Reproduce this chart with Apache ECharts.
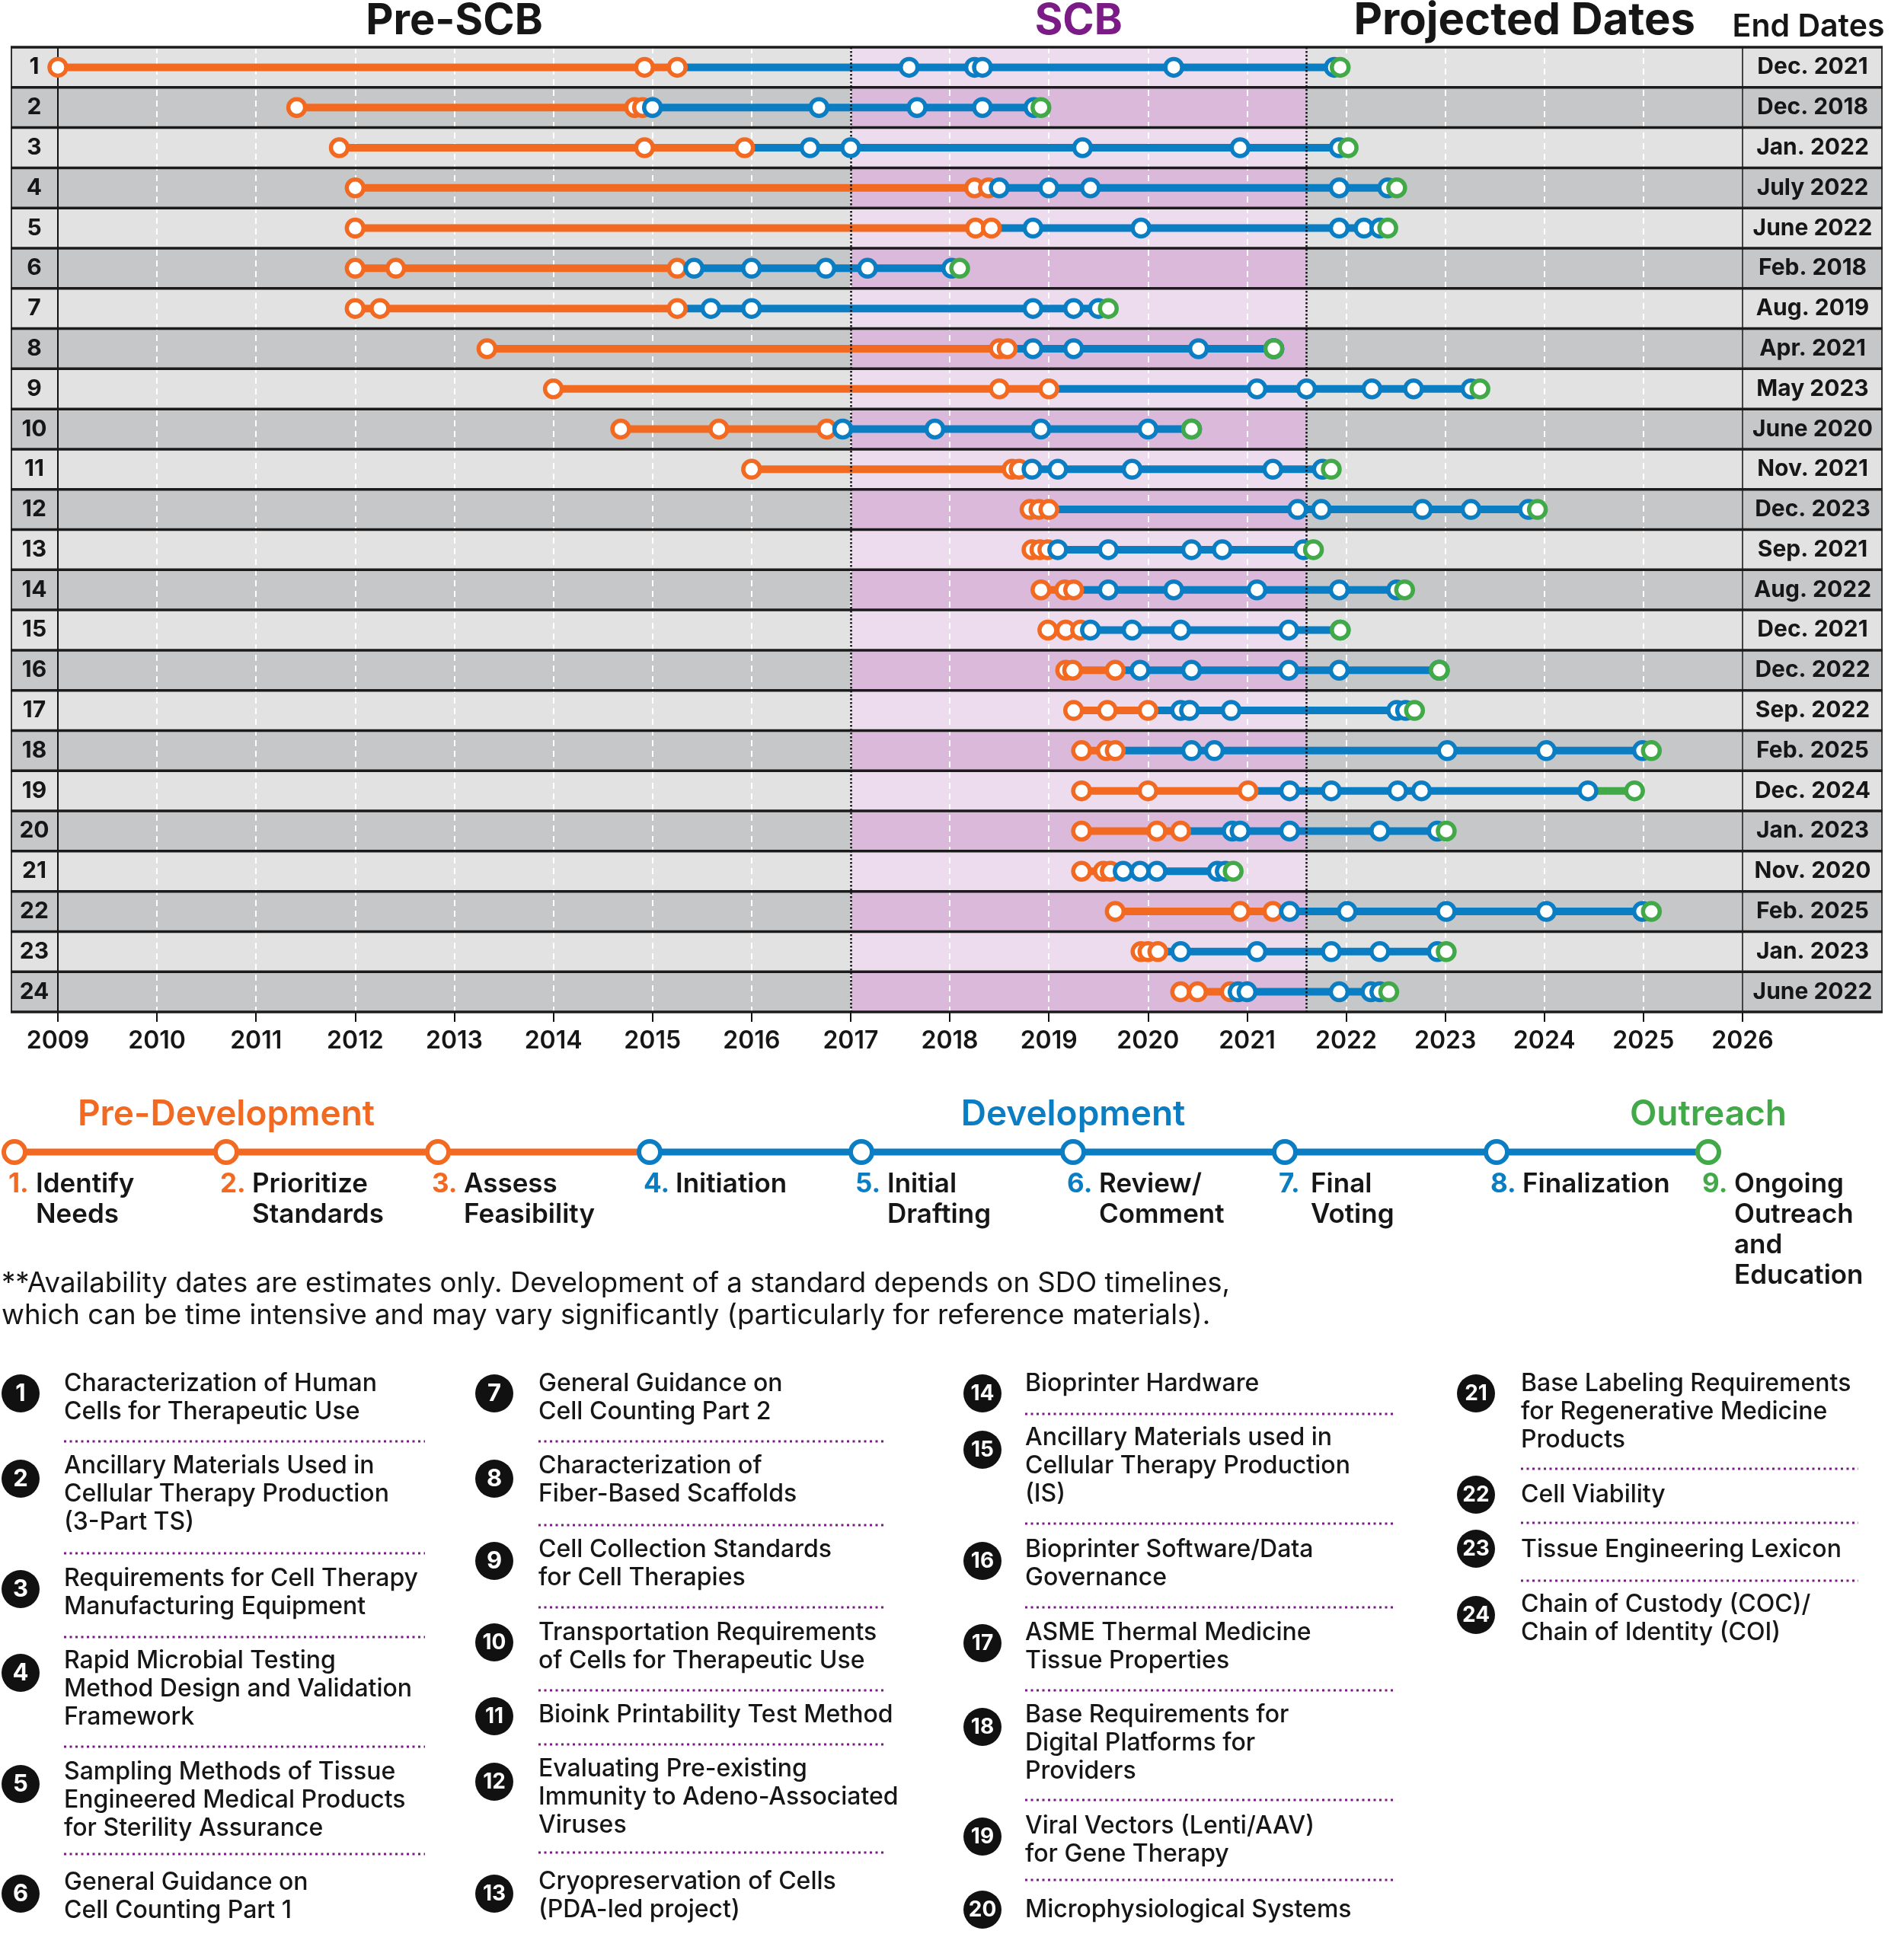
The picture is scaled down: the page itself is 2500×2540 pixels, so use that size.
<!DOCTYPE html>
<html>
<head>
<meta charset="utf-8">
<script src="https://cdn.jsdelivr.net/npm/echarts@6/dist/echarts.min.js"></script>
<style>
html,body{margin:0;padding:0;background:#fff;}
#c{width:2500px;height:2540px;}
</style>
</head>
<body>
<div id="c"></div>
<script>
// ---------------- DATA ----------------
// dates (decimal years) of the 9 stages for each standard
const row1  = [2009.00, 2014.92, 2015.25, 2017.59, 2018.25, 2018.33, 2020.26, 2021.88, 2021.94];
const row2  = [2011.41, 2014.82, 2014.90, 2015.00, 2016.68, 2017.67, 2018.33, 2018.85, 2018.92];
const row3  = [2011.84, 2014.92, 2015.93, 2016.59, 2017.00, 2019.34, 2020.93, 2021.93, 2022.02];
const row4  = [2012.00, 2018.25, 2018.39, 2018.50, 2019.00, 2019.42, 2021.93, 2022.42, 2022.51];
const row5  = [2012.00, 2018.26, 2018.42, 2018.84, 2019.93, 2021.93, 2022.18, 2022.34, 2022.42];
const row6  = [2012.00, 2012.41, 2015.25, 2015.42, 2016.00, 2016.75, 2017.17, 2018.02, 2018.10];
const row7  = [2012.00, 2012.25, 2015.25, 2015.59, 2016.00, 2018.84, 2019.25, 2019.50, 2019.60];
const row8  = [2013.33, 2018.50, 2018.58, 2018.84, 2019.25, 2020.51, 2021.27, 2021.27, 2021.27];
const row9  = [2014.00, 2018.50, 2019.00, 2021.10, 2021.60, 2022.26, 2022.68, 2023.26, 2023.35];
const row10 = [2014.68, 2015.67, 2016.76, 2016.92, 2017.85, 2018.92, 2020.00, 2020.44, 2020.44];
const row11 = [2016.00, 2018.63, 2018.70, 2018.83, 2019.09, 2019.84, 2021.26, 2021.76, 2021.85];
const row12 = [2018.81, 2018.90, 2019.00, 2021.51, 2021.75, 2022.77, 2023.26, 2023.84, 2023.93];
const row13 = [2018.83, 2018.91, 2018.99, 2019.09, 2019.60, 2020.44, 2020.75, 2021.57, 2021.67];
const row14 = [2018.92, 2019.16, 2019.25, 2019.60, 2020.26, 2021.10, 2021.93, 2022.51, 2022.59];
const row15 = [2018.99, 2019.17, 2019.32, 2019.42, 2019.84, 2020.33, 2021.42, 2021.94, 2021.94];
const row16 = [2019.17, 2019.24, 2019.67, 2019.92, 2020.44, 2021.42, 2021.93, 2022.94, 2022.94];
const row17 = [2019.25, 2019.59, 2020.00, 2020.33, 2020.42, 2020.84, 2022.51, 2022.60, 2022.69];
const row18 = [2019.33, 2019.58, 2019.67, 2020.44, 2020.67, 2023.02, 2024.02, 2024.99, 2025.08];
const row19 = [2019.33, 2020.00, 2021.01, 2021.43, 2021.85, 2022.52, 2022.76, 2024.44, 2024.91];
const row20 = [2019.33, 2020.09, 2020.33, 2020.85, 2020.93, 2021.43, 2022.34, 2022.92, 2023.01];
const row21 = [2019.33, 2019.55, 2019.62, 2019.75, 2019.92, 2020.09, 2020.70, 2020.78, 2020.86];
const row22 = [2019.67, 2020.93, 2021.26, 2021.43, 2022.01, 2023.01, 2024.02, 2024.99, 2025.08];
const row23 = [2019.93, 2020.00, 2020.10, 2020.33, 2021.10, 2021.85, 2022.34, 2022.92, 2023.01];
const row24 = [2020.33, 2020.50, 2020.83, 2020.91, 2021.00, 2021.93, 2022.25, 2022.34, 2022.43];
const rows = [row1,row2,row3,row4,row5,row6,row7,row8,row9,row10,row11,row12,row13,row14,row15,row16,row17,row18,row19,row20,row21,row22,row23,row24];

const rowLabels = ['1','2','3','4','5','6','7','8','9','10','11','12','13','14','15','16','17','18','19','20','21','22','23','24'];
const endDates = ['Dec. 2021','Dec. 2018','Jan. 2022','July 2022','June 2022','Feb. 2018','Aug. 2019','Apr. 2021','May 2023','June 2020','Nov. 2021','Dec. 2023','Sep. 2021','Aug. 2022','Dec. 2021','Dec. 2022','Sep. 2022','Feb. 2025','Dec. 2024','Jan. 2023','Nov. 2020','Feb. 2025','Jan. 2023','June 2022'];

const periodNames = ['Pre-SCB', 'SCB', 'Projected Dates'];
const scbStart = 2017;
const projectedStart = 2021.6;
const yearMin = 2009, yearMax = 2026;

const phaseNames = ['Pre-Development', 'Development', 'Outreach'];
const stageLabels = ['Identify\nNeeds','Prioritize\nStandards','Assess\nFeasibility','Initiation','Initial\nDrafting','Review/\nComment','Final\nVoting','Finalization','Ongoing\nOutreach\nand\nEducation'];
const stagePhase = [0,0,0,1,1,1,1,1,2];

const footnote = '**Availability dates are estimates only. Development of a standard depends on SDO timelines,\nwhich can be time intensive and may vary significantly (particularly for reference materials).';

const standardNames = [
 'Characterization of Human\nCells for Therapeutic Use',
 'Ancillary Materials Used in\nCellular Therapy Production\n(3-Part TS)',
 'Requirements for Cell Therapy\nManufacturing Equipment',
 'Rapid Microbial Testing\nMethod Design and Validation\nFramework',
 'Sampling Methods of Tissue\nEngineered Medical Products\nfor Sterility Assurance',
 'General Guidance on\nCell Counting Part 1',
 'General Guidance on\nCell Counting Part 2',
 'Characterization of\nFiber-Based Scaffolds',
 'Cell Collection Standards\nfor Cell Therapies',
 'Transportation Requirements\nof Cells for Therapeutic Use',
 'Bioink Printability Test Method',
 'Evaluating Pre-existing\nImmunity to Adeno-Associated\nViruses',
 'Cryopreservation of Cells\n(PDA-led project)',
 'Bioprinter Hardware',
 'Ancillary Materials used in\nCellular Therapy Production\n(IS)',
 'Bioprinter Software/Data\nGovernance',
 'ASME Thermal Medicine\nTissue Properties',
 'Base Requirements for\nDigital Platforms for\nProviders',
 'Viral Vectors (Lenti/AAV)\nfor Gene Therapy',
 'Microphysiological Systems',
 'Base Labeling Requirements\nfor Regenerative Medicine\nProducts',
 'Cell Viability',
 'Tissue Engineering Lexicon',
 'Chain of Custody (COC)/\nChain of Identity (COI)'
];

// ---------------- STYLE / LAYOUT ----------------
const FONT = 'Inter, "Open Sans", "DejaVu Sans", sans-serif';
const ORANGE = '#f26a22', BLUE = '#0b7dc2', GREEN = '#41a948', PURPLE = '#7b1c86', INK = '#161616';
const PHASE_COLORS = [ORANGE, BLUE, GREEN];
const GRAY_L = '#e2e2e2', GRAY_D = '#c5c7c9', PINK_L = '#eddbee', PINK_D = '#dbb9da';
const LABEL_COL = 61, END_COL = 183;

// list layout: [column, first line centre y, badge centre y, separator y]
const listLayout = [
 [0,1817,1830,1893],[0,1925,1942,2040],[0,2073,2087,2150],[0,2181,2197,2294],[0,2327,2343,2435],[0,2472,2487,null],
 [1,1817,1830,1893],[1,1925,1942,2003],[1,2035,2050,2111],[1,2144,2157,2220],[1,2252,2254,2291],[1,2323,2340,2433],[1,2471,2487,null],
 [2,1817,1830,1857],[2,1888,1904,2001],[2,2035,2050,2111],[2,2144,2158,2220],[2,2252,2268,2364],[2,2398,2412,2469],[2,2508,2508,null],
 [3,1817,1830,1929],[3,1963,1963,2000],[3,2035,2034,2076],[3,2107,2121,null]
];
const listBadgeX = [27, 649, 1290, 1938];
const listTextX = [84, 707, 1346, 1997];
const listSepEnd = [558, 1162, 1830, 2440];

// ---------------- CHART ----------------
const chart = echarts.init(document.getElementById('c'), null, {renderer:'canvas', width:2500, height:2540});

function band(api, i) {
  const a = api.coord([yearMin, i]);
  const b = api.coord([yearMax, i]);
  const h = api.size([0, 1])[1];
  return {xa:a[0], xb:b[0], top:a[1]-h/2, h:h};
}

const rowIdx = rows.map((r,i)=>[yearMin, i]);

const bgSeries = {
  type:'custom', z:-10, silent:true, clip:false, data:rowIdx, encode:{x:0,y:1},
  renderItem:function(params, api){
    const i = api.value(1);
    const b = band(api, i);
    const s0 = api.coord([scbStart, i])[0], s1 = api.coord([projectedStart, i])[0];
    const dark = i % 2 === 1;
    return {type:'group', children:[
      {type:'rect', shape:{x:b.xa-LABEL_COL, y:b.top, width:(b.xb+END_COL)-(b.xa-LABEL_COL), height:b.h}, style:{fill: dark?GRAY_D:GRAY_L}},
      {type:'rect', shape:{x:s0, y:b.top, width:s1-s0, height:b.h}, style:{fill: dark?PINK_D:PINK_L}}
    ]};
  }
};

const borderSeries = {
  type:'custom', z:1, silent:true, clip:false, data:rowIdx, encode:{x:0,y:1},
  renderItem:function(params, api){
    const i = api.value(1);
    const b = band(api, i);
    const L = b.xa-LABEL_COL, R = b.xb+END_COL;
    const ch = [
      {type:'line', shape:{x1:b.xa, y1:b.top, x2:b.xa, y2:b.top+b.h}, style:{stroke:'#111', lineWidth:2}},
      {type:'line', shape:{x1:L, y1:b.top, x2:L, y2:b.top+b.h}, style:{stroke:'#333', lineWidth:2}},
      {type:'line', shape:{x1:b.xb, y1:b.top, x2:b.xb, y2:b.top+b.h}, style:{stroke:'#444', lineWidth:2}},
      {type:'line', shape:{x1:R, y1:b.top, x2:R, y2:b.top+b.h}, style:{stroke:'#333', lineWidth:2}},
      {type:'line', shape:{x1:L-1, y1:b.top, x2:R+1, y2:b.top}, style:{stroke:'#1b1b1b', lineWidth:3.5}}
    ];
    if (i === rows.length-1) ch.push({type:'line', shape:{x1:L-1, y1:b.top+b.h, x2:R+1, y2:b.top+b.h}, style:{stroke:'#1b1b1b', lineWidth:3.5}});
    return {type:'group', children:ch};
  }
};

function linesFor(from, to, color) {
  return {
    type:'lines', coordinateSystem:'cartesian2d', polyline:true, z:3, silent:true,
    lineStyle:{color:color, width:10, opacity:1, cap:'round', join:'round'},
    data: rows.map((r,i)=>({coords: r.slice(from, to+1).map(x=>[x, i])}))
  };
}
function markersFor(from, to, color, z) {
  const d = [];
  rows.forEach((r,i)=>{ for (let k=from; k<=to; k++) d.push([r[k], i]); });
  return {
    type:'scatter', z:z, silent:true, symbol:'circle', symbolSize:22,
    itemStyle:{color:'#fff', borderColor:color, borderWidth:5.5, opacity:1},
    data:d
  };
}

const greenMarkers = markersFor(8, 8, GREEN, 6);
greenMarkers.markLine = {
  silent:true, symbol:['none','none'], label:{show:false},
  lineStyle:{color:'#111', type:'dotted', width:2.5},
  data:[{xAxis:scbStart},{xAxis:projectedStart}]
};

const option = {
  animation:false,
  backgroundColor:'#ffffff',
  grid:{left:76, top:62, width:2212, height:1267, containLabel:false, outerBoundsMode:'none'},
  xAxis:{
    type:'value', min:yearMin, max:yearMax, interval:1,
    axisLine:{show:false},
    axisTick:{show:true, length:13, lineStyle:{color:'#111', width:2}},
    axisLabel:{margin:22, fontSize:32, fontWeight:600, color:INK, fontFamily:FONT, formatter:v=>String(v)},
    splitLine:{show:true, lineStyle:{color:'#ffffff', width:2, type:[8,6]}}
  },
  yAxis:[
    {type:'category', data:rowLabels, inverse:true,
     axisLine:{show:false}, axisTick:{show:false}, splitLine:{show:false},
     axisLabel:{margin:31, align:'center', fontSize:30, fontWeight:'bold', color:INK, fontFamily:FONT}},
    {type:'category', data:endDates, inverse:true, position:'right',
     axisLine:{show:false}, axisTick:{show:false}, splitLine:{show:false},
     axisLabel:{margin:92, align:'center', fontSize:30, fontWeight:'bold', color:INK, fontFamily:FONT}}
  ],
  series:[
    bgSeries, borderSeries,
    linesFor(0, 2, ORANGE), linesFor(2, 7, BLUE), linesFor(7, 8, GREEN),
    markersFor(0, 2, ORANGE, 4), markersFor(3, 7, BLUE, 5), greenMarkers
  ]
};
chart.setOption(option);

// ---------------- GRAPHICS (headers, key, notes) ----------------
const px = v => chart.convertToPixel({xAxisIndex:0}, v);
function txt(x, y, text, size, weight, color, align, vAlign, lineHeight) {
  return {type:'text', x:x, y:y, silent:true, style:{
    text:text, fill:color, fontSize:size, fontWeight:weight, fontFamily:FONT,
    align:align||'left', textAlign:align||'left',
    verticalAlign:vAlign||'middle', textVerticalAlign:vAlign||'middle',
    lineHeight:lineHeight||Math.round(size*1.2)
  }};
}
const g = [];
const bounds = [yearMin, scbStart, projectedStart, yearMax];
const periodColors = [INK, PURPLE, INK];
const periodSizes = [56, 56, 58];
for (let k=0; k<3; k++) {
  g.push(txt((px(bounds[k])+px(bounds[k+1]))/2, 28, periodNames[k], periodSizes[k], 'bold', periodColors[k], 'center'));
}
g.push(txt(px(yearMax)+END_COL/2-5, 36, 'End Dates', 41, 600, INK, 'center'));

// stage key
const LEG_X0 = 19, LEG_STEP = 278, LEG_Y = 1513;
const lx = k => LEG_X0 + k*LEG_STEP;
g.push({type:'line', silent:true, shape:{x1:lx(0), y1:LEG_Y, x2:lx(3), y2:LEG_Y}, style:{stroke:ORANGE, lineWidth:9}});
g.push({type:'line', silent:true, shape:{x1:lx(3), y1:LEG_Y, x2:lx(8), y2:LEG_Y}, style:{stroke:BLUE, lineWidth:9}});
for (let k=0; k<9; k++) {
  const c = PHASE_COLORS[stagePhase[k]];
  g.push({type:'circle', silent:true, shape:{cx:lx(k), cy:LEG_Y, r:14}, style:{fill:'#fff', stroke:c, lineWidth:6}});
  g.push(txt(lx(k)-8, 1555, (k+1)+'.', 35, 'bold', c, 'left'));
  g.push(txt(lx(k)+(k===0?28:34), 1555-20, stageLabels[k], 35, 600, INK, 'left', 'top', 40));
}
const phaseCenters = [lx(1), lx(5), lx(8)];
for (let p=0; p<3; p++) g.push(txt(phaseCenters[p], 1464, phaseNames[p], 46, 600, PHASE_COLORS[p], 'center'));

// footnote
g.push(txt(2, 1665, footnote, 36.6, 400, INK, 'left', 'top', 42));

// numbered list of standards
standardNames.forEach((name, i) => {
  const L = listLayout[i];
  const col = L[0];
  g.push({type:'circle', silent:true, shape:{cx:listBadgeX[col], cy:L[2], r:25}, style:{fill:'#111'}});
  g.push(txt(listBadgeX[col], L[2]+1, String(i+1), i<9?31:28, 'bold', '#fff', 'center'));
  g.push(txt(listTextX[col], L[1]-18.5, name, 32, 500, INK, 'left', 'top', 37));
  if (L[3] !== null) {
    g.push({type:'line', silent:true, shape:{x1:listTextX[col], y1:L[3], x2:listSepEnd[col], y2:L[3]},
      style:{stroke:PURPLE, lineWidth:3, lineDash:[3,4.5]}});
  }
});

chart.setOption({graphic:{elements:g}});
</script>
</body>
</html>
